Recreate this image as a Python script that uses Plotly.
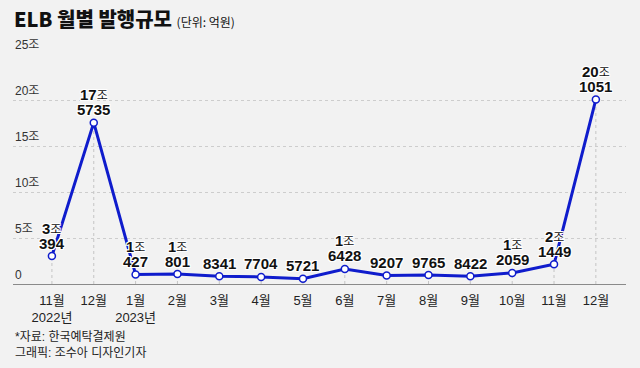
import plotly.graph_objects as go

# ---- data ----
month_labels = ["11월<br>2022년", "12월", "1월<br>2023년", "2월", "3월", "4월", "5월",
                "6월", "7월", "8월", "9월", "10월", "11월", "12월"]
issuance_eok = [30394, 175735, 10427, 10801, 8341, 7704, 5721,
                16428, 9207, 9765, 8422, 12059, 21449, 201051]  # 억원
y_ticks = [0, 5, 10, 15, 20, 25]
y_tick_labels = ["0", "5조", "10조", "15조", "20조", "25조"]

title_text = "ELB 월별 발행규모"
unit_text = "(단위: 억원)"
source_text = "*자료: 한국예탁결제원"
credit_text = "그래픽: 조수아 디자인기자"

# ---- derived ----
x_idx = list(range(len(month_labels)))
y_jo = [v / 10000 for v in issuance_eok]

LINE = "#0f1ccc"
BG = "#f2f2f2"
SANS = "Liberation Sans, Arial, Noto Sans CJK KR, sans-serif"
HALO = ("1px 1px 0 #fff, -1px -1px 0 #fff, 1px -1px 0 #fff, -1px 1px 0 #fff, "
        "0 1px 0 #fff, 0 -1px 0 #fff, 1px 0 0 #fff, -1px 0 0 #fff")

fig = go.Figure()

# drop lines from points to baseline
dx, dy = [], []
for xi, yi in zip(x_idx, y_jo):
    dx += [xi, xi, None]
    dy += [0, yi, None]
fig.add_trace(go.Scatter(x=dx, y=dy, mode="lines",
                         line=dict(color="#c4c4c4", width=1, dash="dot"),
                         hoverinfo="skip", showlegend=False))

fig.add_trace(go.Scatter(
    x=x_idx, y=y_jo, mode="lines+markers",
    line=dict(color=LINE, width=3),
    marker=dict(size=7, color="white", line=dict(color=LINE, width=1.5)),
    showlegend=False, hoverinfo="skip"))

annotations = []
# value labels
for xi, yi, v in zip(x_idx, y_jo, issuance_eok):
    jo, rem = divmod(v, 10000)
    annotations.append(dict(
        x=xi, y=yi, xref="x", yref="y", text=f"<b>{rem}</b>",
        showarrow=False, yanchor="middle", xanchor="center", yshift=13,
        font=dict(family=SANS, size=15, color="#111", shadow=HALO)))
    if jo > 0:
        annotations.append(dict(
            x=xi, y=yi, xref="x", yref="y",
            text=f"<b>{jo}</b><span style='font-size:12px'>조</span>",
            showarrow=False, yanchor="middle", xanchor="center", yshift=28,
            font=dict(family=SANS, size=15, color="#111", shadow=HALO)))

# y tick labels above gridlines
for t, lab in zip(y_ticks, y_tick_labels):
    annotations.append(dict(
        x=0, y=t, xref="paper", yref="y", text=lab, showarrow=False,
        xanchor="left", yanchor="middle", xshift=0, yshift=9,
        font=dict(family=SANS, size=12, color="#333")))

# title
annotations.append(dict(
    x=0, y=1, xref="paper", yref="paper", xanchor="left", yanchor="middle",
    xshift=-1, yshift=36, showarrow=False,
    text=f"{title_text} <span style='font-size:12px;font-weight:400'>{unit_text}</span>",
    font=dict(family="Noto Sans CJK KR, sans-serif", size=20, color="#111", weight=900)))

# footer
annotations.append(dict(
    x=0, y=0, xref="paper", yref="paper", xanchor="left", yanchor="middle",
    xshift=0, yshift=-53, showarrow=False, text=source_text,
    font=dict(family=SANS, size=12, color="#222")))
annotations.append(dict(
    x=0, y=0, xref="paper", yref="paper", xanchor="left", yanchor="middle",
    xshift=0, yshift=-69, showarrow=False, text=credit_text,
    font=dict(family=SANS, size=12, color="#222")))

fig.update_layout(
    width=640, height=368,
    margin=dict(l=13, r=14, t=54, b=84),
    paper_bgcolor=BG, plot_bgcolor=BG,
    annotations=annotations,
    xaxis=dict(range=[-0.93, 13.72], tickvals=x_idx, ticktext=month_labels,
               showgrid=False, zeroline=False, showline=True,
               linecolor="#8a8a8a", linewidth=1, ticks="",
               ticklabelstandoff=4,
               tickfont=dict(family=SANS, size=13, color="#222"),
               fixedrange=True),
    yaxis=dict(range=[0, 25.05], tickvals=y_ticks, showticklabels=False,
               showgrid=True, gridcolor="#cdcdcd", griddash="dot", gridwidth=1,
               zeroline=False, fixedrange=True),
)

fig.write_html("out.html", config={"displayModeBar": False},
               post_script="document.body.style.margin='0';document.body.style.background='#f2f2f2';")
